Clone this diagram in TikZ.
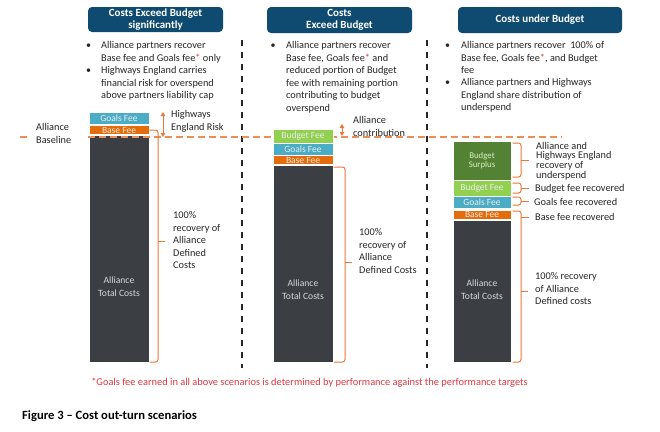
\documentclass[tikz,border=0pt]{standalone}
\usepackage{fontspec}
\setmainfont{Carlito}
\usetikzlibrary{arrows.meta}
\definecolor{cNavy}{HTML}{0F4B71}
\definecolor{cDark}{HTML}{3B3E42}
\definecolor{cTeal}{HTML}{4BACC6}
\definecolor{cOrange}{HTML}{E46C0A}
\definecolor{cLime}{HTML}{92D050}
\definecolor{cGreen}{HTML}{548235}
\definecolor{cLine}{HTML}{E8783A}
\definecolor{cBaseLn}{HTML}{EE8E57}
\definecolor{cRed}{HTML}{E0383E}
\definecolor{cText}{HTML}{262626}
\newcommand{\redast}{\textcolor{cRed}{*}}
\tikzset{
  bodytext/.style={font=\fontsize{10.3}{12.5}\selectfont, text=cText, inner sep=0pt, anchor=north west, align=left},
  lbltext/.style={font=\fontsize{10.3}{12.5}\selectfont, text=cText, inner sep=0pt, anchor=north west, align=left},
  bul/.style={font=\fontsize{10}{12.5}\selectfont, text=cText, inner sep=0pt},
  hdr/.style={fill=cNavy, rounded corners=4pt, text=white, align=center, inner sep=0pt, font=\bfseries\fontsize{11}{12.5}\selectfont},
  seg/.style={draw=white, line width=0.8pt, inner sep=0pt, font=\fontsize{9.5}{10}\selectfont, text=white!92!black},
  bartext/.style={font=\fontsize{9.6}{13}\selectfont, text=white!85!black, align=center, inner sep=0pt},
  brace/.style={draw=cLine, line width=1pt, rounded corners=2.5pt},
  sepline/.style={draw=black!85, line width=1.8pt, dash pattern=on 6pt off 6pt},
  baseln/.style={draw=cBaseLn, line width=1.5pt, dash pattern=on 7pt off 4pt},
  dblarrow/.style={draw=cLine, line width=1pt, {Triangle[length=4pt,width=4.5pt]}-{Triangle[length=4pt,width=4.5pt]}}
}
\begin{document}
\begin{tikzpicture}[x=1pt,y=-1pt]
\useasboundingbox (0,0) rectangle (660,431);
\fill[white] (0,0) rectangle (660,431);

% headers
\node[hdr, minimum width=135pt, minimum height=25pt] (h1) at (155.5,19.5) {Costs Exceed Budget\\significantly};
\node[hdr, minimum width=145pt, minimum height=26pt] (h2) at (339.5,20) {Costs\\Exceed Budget};
\node[hdr, minimum width=164pt, minimum height=26pt] (h3) at (540,20) {Costs under Budget};

% bullets column 1
\node[bul] (u1a) at (88.5,46) {•};
\node[bodytext] (p1a) at (101,41.5) {Alliance partners recover\\Base fee and Goals fee\redast{} only};
\node[bul] (u1b) at (88.5,71) {•};
\node[bodytext] (p1b) at (101,66.5) {Highways England carries\\financial risk for overspend\\above partners liability cap};

% bullets column 2
\node[bul] (u2a) at (273,46) {•};
\node[bodytext] (p2a) at (286,41.5) {Alliance partners recover\\Base fee, Goals fee\redast{} and\\reduced portion of Budget\\fee with remaining portion\\contributing to budget\\overspend};

% bullets column 3
\node[bul] (u3a) at (447.5,46) {•};
\node[bodytext] (p3a) at (461,41.5) {Alliance partners recover\ \ 100\% of\\Base fee, Goals fee\redast, and Budget\\fee};
\node[bul] (u3b) at (447.5,83) {•};
\node[bodytext] (p3b) at (461,78.5) {Alliance partners and Highways\\England share distribution of\\underspend};

% separators
\coordinate (s1t) at (242,40); \coordinate (s1b) at (242,368);
\coordinate (s2t) at (427,40); \coordinate (s2b) at (427,368);
\draw[sepline] (s1t) -- (s1b);
\draw[sepline] (s2t) -- (s2b);

% column 1 bars
\node[seg, fill=cTeal, minimum width=60pt, minimum height=12pt] (g1) at (119,118.5) {Goals Fee};
\node[seg, fill=cOrange, minimum width=60pt, minimum height=9pt] (b1) at (119,130) {Base Fee};
\node[seg, fill=cDark, minimum width=60pt, minimum height=227pt] (d1) at (119,249) {};
\node[bartext] (t1) at (119,286.5) {Alliance\\Total Costs};

% baseline
\coordinate (bl0) at (20,137); \coordinate (bl1) at (27,137);
\coordinate (blL) at (88,137); \coordinate (blR) at (562,137);
\draw[baseln] (bl0) -- (bl1);
\draw[baseln] (blL) -- (blR);
\node[lbltext] (bl) at (36,123.5) {Alliance\\Baseline};

% column 2 bars
\node[seg, fill=cLime, minimum width=60pt, minimum height=14pt] (bf2) at (303,136) {Budget Fee};
\node[seg, fill=cTeal, minimum width=60pt, minimum height=12pt] (g2) at (303,149) {Goals Fee};
\node[seg, fill=cOrange, minimum width=60pt, minimum height=9pt] (b2) at (303,160) {Base Fee};
\node[seg, fill=cDark, minimum width=60pt, minimum height=196.5pt] (d2) at (303,263.75) {};
\node[bartext] (t2) at (303,289.5) {Alliance\\Total Costs};

% column 3 bars
\node[seg, fill=cGreen, minimum width=58pt, minimum height=39pt, font=\fontsize{8.8}{8.5}\selectfont, align=center, text=cLime!35!white] (s3) at (482,160.5) {Budget\\Surplus};
\node[seg, fill=cLime, minimum width=58pt, minimum height=16pt] (bf3) at (482,188) {Budget Fee};
\node[seg, fill=cTeal, minimum width=58pt, minimum height=12pt] (g3) at (482,202) {Goals Fee};
\node[seg, fill=cOrange, minimum width=58pt, minimum height=9pt] (b3) at (482,214.5) {Base Fee};
\node[seg, fill=cDark, minimum width=58pt, minimum height=142pt] (d3) at (482,291) {};
\node[bartext] (t3) at (482,290) {Alliance\\Total Costs};

% double arrows
\coordinate (a1t) at (163,112); \coordinate (a1b) at (163,137);
\draw[dblarrow] (a1t) -- (a1b);
\node[lbltext] (hr) at (171,110.5) {Highways\\England Risk};
\coordinate (a2t) at (342,124); \coordinate (a2b) at (342,136);
\draw[dblarrow] (a2t) -- (a2b);
\node[lbltext] (ac) at (353,116.5) {Alliance\\contribution};

% column 1 brace
\draw[brace] (b1.east) -- (158,130) -- (158,362) -- (149.5,362);
\draw[draw=cLine, line width=1pt] (158,241) -- (165,241);
\node[lbltext] (r1) at (173,211.5) {100\%\\recovery of\\Alliance\\Defined\\Costs};

% column 2 brace
\draw[brace] (333.5,167) -- (345,167) -- (345,362) -- (334,362);
\draw[draw=cLine, line width=1pt] (345,262) -- (352,262);
\node[lbltext] (r2) at (359,228.5) {100\%\\recovery of\\Alliance\\Defined Costs};

% column 3 braces
\draw[brace] (512.5,143) -- (521,143) -- (521,177) -- (512.5,177);
\draw[draw=cLine, line width=1pt] (521,160) -- (529,160);
\draw[brace] (512.5,183) -- (521,183) -- (521,193) -- (512.5,193);
\draw[draw=cLine, line width=1pt] (521,188) -- (529,188);
\draw[brace] (512.5,197) -- (521,197) -- (521,205) -- (512.5,205);
\draw[draw=cLine, line width=1pt] (521,201) -- (529,201);
\draw[brace] (512.5,211) -- (521,211) -- (521,362) -- (512.5,362);
\draw[draw=cLine, line width=1pt] (521,217) -- (529,217);
\draw[draw=cLine, line width=1pt] (521,291) -- (528,291);

\node[lbltext, font=\fontsize{10.3}{8.8}\selectfont] (l3a) at (536,142.5) {Alliance and\\Highways England\\recovery of\\underspend};
\node[lbltext, anchor=west] (l3b) at (535,188.5) {Budget fee recovered};
\node[lbltext, anchor=west] (l3c) at (534,201.5) {Goals fee recovered};
\node[lbltext, anchor=west] (l3d) at (535,217) {Base fee recovered};
\node[lbltext] (l3e) at (535,272.5) {100\% recovery\\of Alliance\\Defined costs};

% footnote and caption
\node[font=\fontsize{10.4}{12}\selectfont, text=cRed, inner sep=0pt] (fn) at (309.5,383) {*Goals fee earned in all above scenarios is determined by performance against the performance targets};
\node[font=\bfseries\fontsize{12.6}{14}\selectfont, text=black, inner sep=0pt, anchor=west] (cap) at (22,416) {Figure 3 – Cost out-turn scenarios};
\end{tikzpicture}
\end{document}
